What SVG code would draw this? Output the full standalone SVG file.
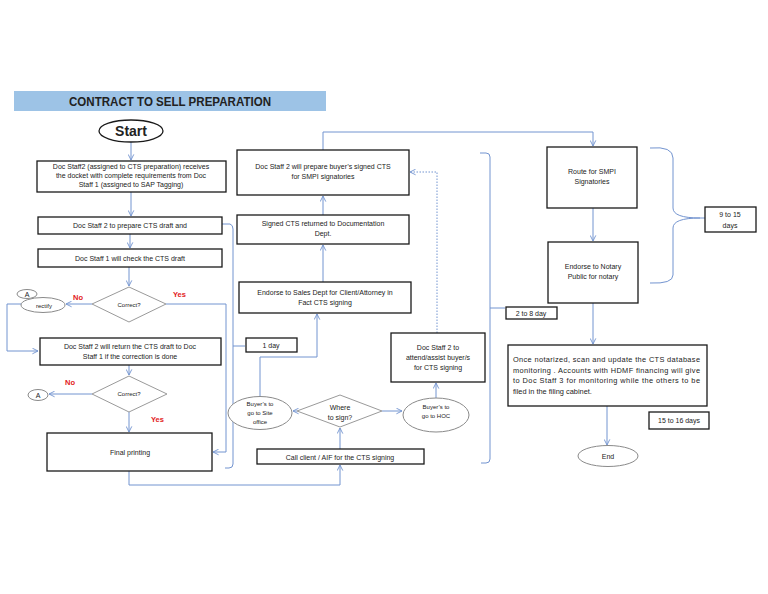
<svg xmlns="http://www.w3.org/2000/svg" width="768" height="594" viewBox="0 0 768 594">
<style>
text{font-family:"Liberation Sans",Arial,sans-serif;fill:#222;}
.box{fill:#fff;stroke:#1a1a1a;stroke-width:1.3;}
.dia{fill:#fff;stroke:#9a9a9a;stroke-width:1;}
.ell{fill:#fff;stroke:#8a8a8a;stroke-width:1;}
.t7{font-size:7px;text-anchor:middle;}
.t6{font-size:6px;text-anchor:middle;}
.red{font-size:7.5px;font-weight:bold;fill:#e21b1b;}
.c{fill:none;stroke:#7394D0;stroke-width:1;}
.dot{fill:none;stroke:#7394D0;stroke-width:1;stroke-dasharray:1.5 1.5;}
</style>
<defs>
<marker id="ah" viewBox="0 0 10 10" refX="9" refY="5" markerWidth="7" markerHeight="7" orient="auto" markerUnits="userSpaceOnUse">
<path d="M1,1 L9,5 L1,9" fill="none" stroke="#7394D0" stroke-width="1.3"/>
</marker>
</defs>
<rect width="768" height="594" fill="#fff"/>

<g id="title">
<rect x="14" y="91" width="312" height="20" fill="#9DC3E6"/>
<text x="170" y="106" font-size="12" font-weight="bold" text-anchor="middle" textLength="202" lengthAdjust="spacingAndGlyphs">CONTRACT TO SELL PREPARATION</text>
</g>

<g id="connectors">
<path class="c" d="M131,142 V160" marker-end="url(#ah)"/>
<path class="c" d="M131,192 V216" marker-end="url(#ah)"/>
<path class="c" d="M130,234 V248" marker-end="url(#ah)"/>
<path class="c" d="M129,267 V286" marker-end="url(#ah)"/>
<path class="c" d="M92,304 H66" marker-end="url(#ah)"/>
<path class="c" d="M22,304 H7 V351 H38" marker-end="url(#ah)"/>
<path class="c" d="M166,304 H226 V452 H213" marker-end="url(#ah)"/>
<path class="c" d="M129,365 V375" marker-end="url(#ah)"/>
<path class="c" d="M92,394 H49" marker-end="url(#ah)"/>
<path class="c" d="M129,412 V432" marker-end="url(#ah)"/>
<path class="c" d="M222,224 H230 Q233,225 233,229 V464 Q233,468 229,468 H225"/>
<path class="c" d="M233,346 H245"/>
<path class="c" d="M129,471 V485 H340 V465" marker-end="url(#ah)"/>
<path class="c" d="M340,449 V428" marker-end="url(#ah)"/>
<path class="c" d="M297,411 H293" marker-end="url(#ah)"/>
<path class="c" d="M382,411 H402" marker-end="url(#ah)"/>
<path class="c" d="M436,398 V383" marker-end="url(#ah)"/>
<path class="c" d="M260,397 V357 H317 V314" marker-end="url(#ah)"/>
<path class="c" d="M323,282 V245" marker-end="url(#ah)"/>
<path class="c" d="M323,215 V196" marker-end="url(#ah)"/>
<path class="c" d="M323,150 V132 H593 V146" marker-end="url(#ah)"/>
<path class="dot" d="M437,333 V172 H410" marker-end="url(#ah)"/>
<path class="c" d="M480,153 H486 Q490,153 490,157 V459 Q490,463 486,463 H481"/>
<path class="c" d="M490,308 H505"/>
<path class="c" d="M593,208 V241" marker-end="url(#ah)"/>
<path class="c" d="M593,303 V344" marker-end="url(#ah)"/>
<path class="c" d="M607,406 V445" marker-end="url(#ah)"/>
<path class="c" d="M650,148 Q673,146 673,158 V208 Q673,218 700,218 H705 M700,218 Q673,218 673,228 V275 Q673,284 650,283"/>
</g>

<g id="start">
<ellipse cx="131" cy="131" rx="32" ry="11" fill="#fff" stroke="#1a1a1a" stroke-width="1.3"/>
<text x="131" y="136" font-size="14" font-weight="bold" text-anchor="middle">Start</text>
</g>

<g id="receive">
<rect class="box" x="37" y="161" width="189" height="31"/>
<text class="t7" x="131" y="168.5">Doc Staff2 (assigned to CTS preparation) receives</text>
<text class="t7" x="131" y="177.5">the docket with complete requirements  from Doc</text>
<text class="t7" x="131" y="186.5">Staff 1 (assigned to SAP Tagging)</text>
</g>

<g id="prepare-draft">
<rect class="box" x="38" y="217" width="184" height="17"/>
<text class="t7" x="130" y="228">Doc Staff 2 to prepare CTS draft and</text>
</g>

<g id="check-draft">
<rect class="box" x="38" y="249" width="184" height="18"/>
<text class="t7" x="130" y="261">Doc Staff 1 will check  the CTS draft</text>
</g>

<g id="correct1">
<polygon class="dia" points="129,287 166,304 129,322 92,304"/>
<text class="t6" x="129" y="306.5">Correct?</text>
<text class="red" x="73" y="300">No</text>
<text class="red" x="173" y="297">Yes</text>
</g>

<g id="rectify">
<ellipse class="ell" cx="43" cy="305" rx="22" ry="7.5"/>
<ellipse class="ell" cx="27" cy="294" rx="10" ry="4.5"/>
<text class="t7" x="27" y="296.5">A</text>
<text class="t6" x="44" y="307.5">rectify</text>
</g>

<g id="return-draft">
<rect class="box" x="40" y="338" width="181" height="27"/>
<text class="t7" x="130" y="348.5">Doc Staff 2 will return the CTS draft to Doc</text>
<text class="t7" x="130" y="358.5">Staff 1 if the correction is done</text>
</g>

<g id="correct2">
<polygon class="dia" points="129,376 167,394 129,412 92,394"/>
<text class="t6" x="129" y="396" font-size="5.5">Correct?</text>
<text class="red" x="65" y="385">No</text>
<text class="red" x="151" y="422">Yes</text>
</g>

<g id="a2">
<ellipse class="ell" cx="38" cy="395" rx="10" ry="5.5"/>
<text class="t7" x="38" y="397.5">A</text>
</g>

<g id="final-printing">
<rect class="box" x="47" y="433" width="165" height="38"/>
<text class="t7" x="130" y="455" font-size="7.5">Final printing</text>
</g>

<g id="one-day">
<rect class="box" x="246" y="338" width="51" height="14"/>
<text class="t7" x="271" y="347.5">1 day</text>
</g>

<g id="call-client">
<rect class="box" x="257" y="449" width="167" height="15"/>
<text class="t7" x="340" y="459.5" font-size="7.5">Call client / AIF for the CTS signing</text>
</g>

<g id="where">
<polygon class="dia" points="340,395 382,411 340,427 297,411"/>
<text class="t7" x="340" y="410" font-size="7.5">Where</text>
<text class="t7" x="340" y="420" font-size="7.5">to sign?</text>
</g>

<g id="site-office">
<ellipse class="ell" cx="260" cy="413" rx="32" ry="16.5"/>
<text class="t6" x="260" y="406">Buyer’s to</text>
<text class="t6" x="260" y="415">go to Site</text>
<text class="t6" x="260" y="424">office</text>
</g>

<g id="hoc">
<ellipse class="ell" cx="436" cy="415" rx="33" ry="17"/>
<text class="t6" x="436" y="409">Buyer’s to</text>
<text class="t6" x="436" y="418">go to HOC</text>
</g>

<g id="attend">
<rect class="box" x="391" y="333" width="94" height="49"/>
<text class="t7" x="438" y="350">Doc Staff 2 to</text>
<text class="t7" x="438" y="360">attend/assist buyer/s</text>
<text class="t7" x="438" y="370">for CTS signing</text>
</g>

<g id="endorse-sales">
<rect class="box" x="239" y="282" width="172" height="31"/>
<text class="t7" x="325" y="295">Endorse to Sales Dept for Client/Attorney in</text>
<text class="t7" x="325" y="305">Fact CTS signing</text>
</g>

<g id="signed-returned">
<rect class="box" x="237" y="215" width="172" height="29"/>
<text class="t7" x="323" y="226">Signed CTS returned to Documentation</text>
<text class="t7" x="323" y="236">Dept.</text>
</g>

<g id="prepare-signed">
<rect class="box" x="237" y="150" width="172" height="45"/>
<text class="t7" x="323" y="169">Doc Staff 2 will prepare buyer’s signed CTS</text>
<text class="t7" x="323" y="179">for  SMPI signatories</text>
</g>

<g id="two-eight">
<rect class="box" x="506" y="307" width="51" height="12"/>
<text class="t7" x="531" y="315.5">2 to 8 day</text>
</g>

<g id="route">
<rect class="box" x="547" y="147" width="90" height="61"/>
<text class="t7" x="592" y="174">Route for SMPI</text>
<text class="t7" x="592" y="184">Signatories</text>
</g>

<g id="notary">
<rect class="box" x="548" y="242" width="90" height="61"/>
<text class="t7" x="593" y="269">Endorse to Notary</text>
<text class="t7" x="593" y="279">Public  for notary</text>
</g>

<g id="nine-fifteen">
<rect class="box" x="705" y="207" width="51" height="25"/>
<text class="t7" x="730" y="217">9 to 15</text>
<text class="t7" x="730" y="228">days</text>
</g>

<g id="notarized">
<rect class="box" x="508" y="345" width="199" height="61"/>
<text font-size="7.4" x="513" y="362" textLength="187" lengthAdjust="spacing">Once  notarized, scan and  update the CTS  database</text>
<text font-size="7.4" x="513" y="372.5" textLength="187" lengthAdjust="spacing">monitoring . Accounts with HDMF financing will give</text>
<text font-size="7.4" x="513" y="383" textLength="187" lengthAdjust="spacing">to Doc Staff 3 for monitoring while the others  to be</text>
<text font-size="7.4" x="513" y="393.5">filed in the filing cabinet.</text>
</g>

<g id="fifteen-sixteen">
<rect class="box" x="649" y="412" width="60" height="17"/>
<text class="t7" x="679" y="423">15 to 16 days</text>
</g>

<g id="end">
<ellipse class="ell" cx="608" cy="456" rx="30" ry="10.5"/>
<text class="t7" x="608" y="459">End</text>
</g>
</svg>
